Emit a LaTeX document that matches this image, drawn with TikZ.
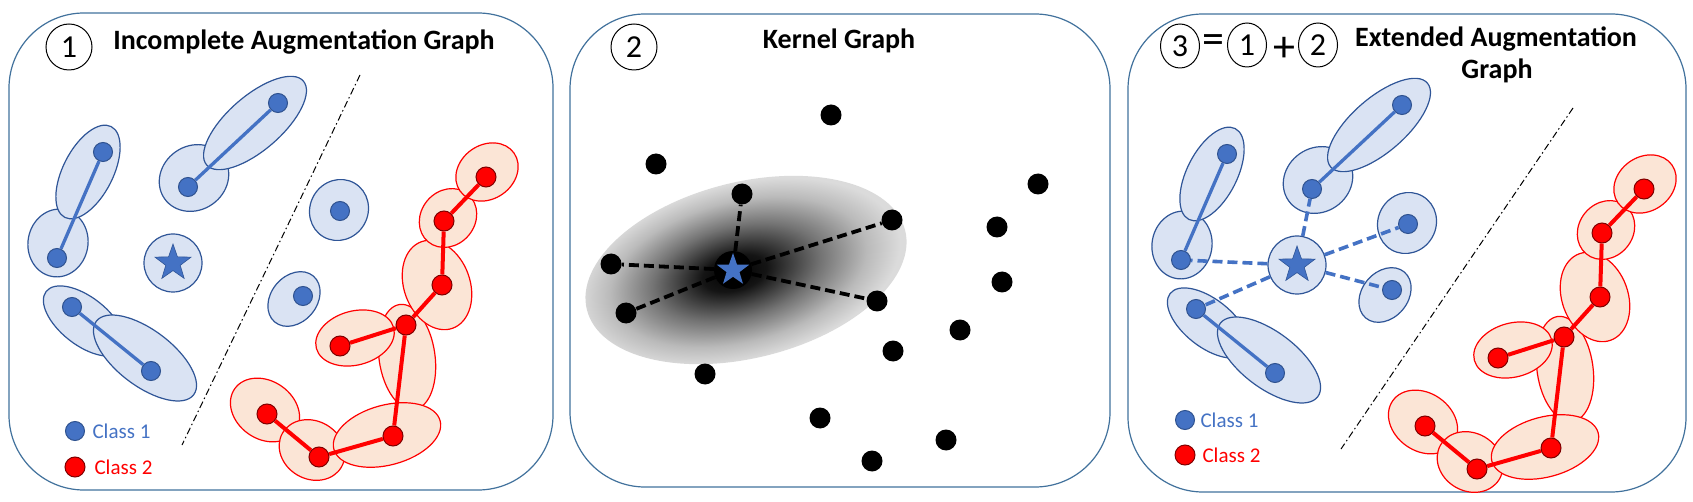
\documentclass[tikz,border=0pt]{standalone}
\usepackage{fontspec}
\setmainfont{Carlito}
\usepackage{tikz}
\usetikzlibrary{positioning, shapes.geometric, calc}
\usepackage{xcolor}
\definecolor{clsblue}{HTML}{4472C4}
\definecolor{clsbluedark}{HTML}{2F528F}
\definecolor{halobluefill}{HTML}{DAE3F3}
\definecolor{halobluedraw}{HTML}{2F5597}
\definecolor{clsred}{HTML}{FF0000}
\definecolor{clsreddark}{HTML}{7F0000}
\definecolor{haloredfill}{HTML}{FBE5D6}
\definecolor{framecol}{HTML}{41719C}
\pgfdeclareradialshading{kernelglow}{\pgfpoint{-2bp}{0bp}}{color(0bp)=(black); color(5bp)=(black!92);
  color(13bp)=(black!55); color(20bp)=(black!27); color(25bp)=(black!14); color(50bp)=(black!14)}

% augmentation pairs of class 1 (with the anchor star)
\newcommand{\bluegroup}[1]{%
  \draw[bluehalo] (58,243) ellipse [x radius=34, y radius=30, rotate=80];
  \draw[bluehalo] (88,172) ellipse [x radius=51, y radius=25, rotate=63];
  \draw[bluehalo] (194,178) ellipse [x radius=36, y radius=32, rotate=35];
  \draw[bluehalo] (255,123) ellipse [x radius=64, y radius=27, rotate=41];
  \draw[bluehalo] (84,321) ellipse [x radius=48, y radius=24, rotate=-38];
  \draw[bluehalo] (145,358) ellipse [x radius=61, y radius=28, rotate=-37];
  \node[starhalo] (#1star) at (173,263) {};
  \node[bluestar] (#1starglyph) at (#1star) {};
  \node[bluedot] (#1a1) at (103,152) {};
  \node[bluedot] (#1a2) at (57,258) {};
  \node[bluedot] (#1b1) at (188,187) {};
  \node[bluedot] (#1b2) at (278,103) {};
  \node[bluedot] (#1c1) at (72,307) {};
  \node[bluedot] (#1c2) at (151,371) {};
  \draw[blueedge] (#1a1) -- (#1a2);
  \draw[blueedge] (#1b1) -- (#1b2);
  \draw[blueedge] (#1c1) -- (#1c2);
}
% augmentation chain of class 2
\newcommand{\redgroup}[1]{%
  \draw[redhalo] (407,357) ellipse [x radius=53, y radius=28, rotate=-82];
  \draw[redhalo] (437,285) ellipse [x radius=46, y radius=33, rotate=-70];
  \draw[redhalo] (448,218) ellipse [x radius=31, y radius=27, rotate=50];
  \draw[redhalo] (487,172) ellipse [x radius=33, y radius=27, rotate=35];
  \draw[redhalo] (355,338) ellipse [x radius=40, y radius=27, rotate=15];
  \draw[redhalo] (265,410) ellipse [x radius=37, y radius=29, rotate=-35];
  \draw[redhalo] (312,450) ellipse [x radius=34, y radius=29, rotate=-30];
  \draw[redhalo] (387,435) ellipse [x radius=55, y radius=30, rotate=15];
  \node[reddot] (#1r1) at (486,177) {};
  \node[reddot] (#1r2) at (444,221) {};
  \node[reddot] (#1r3) at (442,285) {};
  \node[reddot] (#1r4) at (406,325) {};
  \node[reddot] (#1r5) at (340,346) {};
  \node[reddot] (#1r6) at (393,436) {};
  \node[reddot] (#1r7) at (319,457) {};
  \node[reddot] (#1r8) at (267,414) {};
  \draw[rededge] (#1r1) -- (#1r2);
  \draw[rededge] (#1r2) -- (#1r3);
  \draw[rededge] (#1r3) -- (#1r4);
  \draw[rededge] (#1r4) -- (#1r5);
  \draw[rededge] (#1r4) -- (#1r6);
  \draw[rededge] (#1r6) -- (#1r7);
  \draw[rededge] (#1r7) -- (#1r8);
}

\begin{document}
\begin{tikzpicture}[x=1pt, y=-1pt,
    panel/.style={draw=framecol, line width=1.2pt, rounded corners=75pt},
    bluehalo/.style={draw=halobluedraw, fill=halobluefill, line width=1.2pt},
    redhalo/.style={draw=clsred, fill=haloredfill, line width=1.2pt},
    bluedot/.style={circle, draw=clsbluedark, fill=clsblue, line width=1pt, minimum size=19pt, inner sep=0pt},
    reddot/.style={circle, draw=clsreddark, fill=clsred, line width=1pt, minimum size=20pt, inner sep=0pt},
    blackdot/.style={circle, fill=black, minimum size=21pt, inner sep=0pt},
    starhalo/.style={circle, draw=halobluedraw, fill=halobluefill, line width=1.2pt, minimum size=58pt, inner sep=0pt},
    bluestar/.style={star, star points=5, star point ratio=2.5, fill=clsblue, draw=halobluedraw,
                     line width=0.6pt, minimum size=38pt, inner sep=0pt},
    blueedge/.style={draw=clsblue, line width=3.3pt},
    rededge/.style={draw=clsred, line width=4pt},
    kernedge/.style={draw=black, line width=3.8pt, dash pattern=on 10pt off 5pt},
    augedge/.style={draw=clsblue, line width=3.6pt, dash pattern=on 10pt off 5pt},
    divider/.style={draw=black, line width=1pt, dash pattern=on 7pt off 3pt on 1.5pt off 3pt},
    digit/.style={circle, draw=black, line width=1pt, minimum size=46pt, inner sep=0pt,
                  font=\fontsize{32}{32}\selectfont},
    digitsmall/.style={ellipse, draw=black, line width=1pt, minimum width=39pt, minimum height=44pt,
                  inner sep=0pt, font=\fontsize{32}{32}\selectfont},
    sign/.style={inner sep=0pt, font=\fontsize{44}{44}\selectfont},
    heading/.style={font=\fontsize{28}{32}\selectfont\bfseries, anchor=base},
    legend/.style={font=\fontsize{21}{24}\selectfont, anchor=base west}]
  \useasboundingbox (0,0) rectangle (1693,502);

  % panel 1
  \draw[panel] (9,13) rectangle (553,490);
  \node[digit] (tag1) at (69,47) {1};
  \node[heading] (title1) at (304,50) {Incomplete Augmentation Graph};
  \coordinate (cut1top) at (360,75);
  \coordinate (cut1bot) at (182,445);
  \draw[divider] (cut1top) -- (cut1bot);
  \bluegroup{p}
  \draw[bluehalo] (339,210) ellipse [x radius=31, y radius=29, rotate=60];
  \draw[bluehalo] (294,299) ellipse [x radius=30, y radius=23, rotate=50];
  \node[bluedot] (ps1) at (340,211) {};
  \node[bluedot] (ps2) at (303,296) {};
  \redgroup{p}
  \node[bluedot] (pkey1) at (75,431) {};
  \node[legend, text=clsblue] (pkey1txt) at (89,438) {Class 1};
  \node[reddot] (pkey2) at (75,467) {};
  \node[legend, text=clsred] (pkey2txt) at (91,474) {Class 2};

  % panel 2
  \draw[panel] (570,14) rectangle (1110,487);
  \node[digit] (tag2) at (634,47) {2};
  \node[heading] (title2) at (839,49) {Kernel Graph};
  \shade[shading=kernelglow, transform canvas={shift={(746,270)}, rotate=14}]
    (0,0) ellipse [x radius=164, y radius=88];
  \node[blackdot] (k1) at (831,115) {};
  \node[blackdot] (k2) at (656,164) {};
  \node[blackdot] (k3) at (742,194) {};
  \node[blackdot] (k4) at (892,220) {};
  \node[blackdot] (k5) at (611,264) {};
  \node[blackdot] (k6) at (626,313) {};
  \node[blackdot] (k7) at (877,301) {};
  \node[blackdot] (k8) at (1038,184) {};
  \node[blackdot] (k9) at (997,227) {};
  \node[blackdot] (k10) at (1002,282) {};
  \node[blackdot] (k11) at (960,330) {};
  \node[blackdot] (k12) at (893,351) {};
  \node[blackdot] (k13) at (705,374) {};
  \node[blackdot] (k14) at (820,418) {};
  \node[blackdot] (k15) at (946,440) {};
  \node[blackdot] (k16) at (872,461) {};
  \node[circle, fill=black, minimum size=38pt, inner sep=0pt] (kstar) at (733,270) {};
  \node[star, star points=5, star point ratio=2.5, fill=clsblue, minimum size=34pt, inner sep=0pt]
    (kstarglyph) at (kstar) {};
  \draw[kernedge] (kstar) -- (k3);
  \draw[kernedge] (kstar) -- (k4);
  \draw[kernedge] (kstar) -- (k5);
  \draw[kernedge] (kstar) -- (k6);
  \draw[kernedge] (kstar) -- (k7);

  % panel 3
  \draw[panel] (1128,14) rectangle (1686,492);
  \node[digitsmall] (tag3) at (1180,46) {3};
  \node[sign] (eqsign) at (1213,44) {=};
  \node[digitsmall] (tag3one) at (1247,45) {1};
  \node[sign] (plussign) at (1284,49) {+};
  \node[digitsmall] (tag3two) at (1318,45) {2};
  \node[heading] (title3a) at (1496,47) {Extended Augmentation};
  \node[heading] (title3b) at (1497,79) {Graph};
  \coordinate (cut3top) at (1573,108);
  \coordinate (cut3bot) at (1341,449);
  \draw[divider] (cut3top) -- (cut3bot);
  \begin{scope}[shift={(1124,2)}]
    \bluegroup{e}
  \end{scope}
  \draw[bluehalo] (1407,223) ellipse [x radius=31, y radius=29, rotate=60];
  \draw[bluehalo] (1385,295) ellipse [x radius=30, y radius=23, rotate=50];
  \node[bluedot] (es1) at (1408,224) {};
  \node[bluedot] (es2) at (1392,290) {};
  \draw[augedge] (estar) -- (ea2);
  \draw[augedge] (estar) -- (eb1);
  \draw[augedge] (estar) -- (es1);
  \draw[augedge] (estar) -- (es2);
  \draw[augedge] (estar) -- (ec1);
  \begin{scope}[shift={(1158,12)}]
    \redgroup{e}
  \end{scope}
  \node[bluedot] (ekey1) at (1185,420) {};
  \node[legend, text=clsblue] (ekey1txt) at (1197,427) {Class 1};
  \node[reddot] (ekey2) at (1185,455) {};
  \node[legend, text=clsred] (ekey2txt) at (1199,462) {Class 2};
\end{tikzpicture}
\end{document}
